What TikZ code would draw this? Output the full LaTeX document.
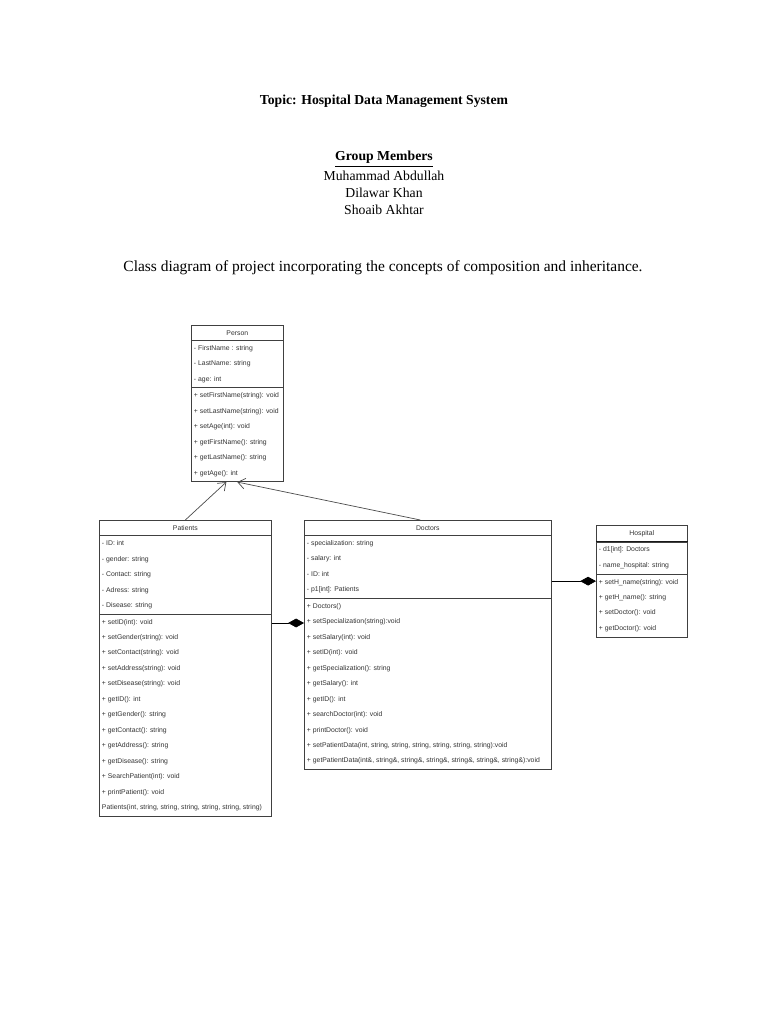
\documentclass[tikz,border=0pt]{standalone}
\usepackage{fontspec}
\setmainfont{Liberation Serif}
\newfontfamily\umlsans{Liberation Sans}
\usepackage{tikz}
\usetikzlibrary{arrows.meta}
\usetikzlibrary{shapes.multipart}

\tikzset{
  heading/.style={font=\fontsize{7.8}{9.5}\selectfont, inner sep=0pt},
  umlclass/.style={rectangle split, rectangle split parts=3, draw=black!75,
    fill=white, anchor=north west, align=left, text=black!80,
    font=\umlsans\fontsize{3.9}{8.8}\selectfont,
    inner xsep=1.5pt, inner ysep=2.7pt,
    rectangle split part align={center,left,left}},
  inherit/.style={-{Straight Barb[length=4pt,width=6pt]}, draw=black!70, thin},
  compos/.style={-{Diamond[length=9pt,width=5pt]}, draw=black, thin},
}

\begin{document}
\begin{tikzpicture}[x=0.02cm,y=-0.02cm]
\useasboundingbox[fill=white] (0,0) rectangle (768,1024);

% title block
\node[heading] (topic) at (384,101) {\textbf{Topic: Hospital Data Management System}};
\node[heading] (members) at (384,159) {\textbf{\underline{Group Members}}};
\node[heading] (m1) at (384,176) {Muhammad Abdullah};
\node[heading] (m2) at (384,193) {Dilawar Khan};
\node[heading] (m3) at (384,210) {Shoaib Akhtar};
\node[heading, font=\fontsize{8.8}{10}\selectfont] (caption) at (383,268) {Class diagram of project incorporating the concepts of composition and inheritance.};

% classes
\node[umlclass, minimum width=1.84cm] (person) at (191,325) {Person
  \nodepart{two}- FirstName : string\\- LastName: string\\- age: int
  \nodepart{three}+ setFirstName(string): void\\+ setLastName(string): void\\+ setAge(int): void\\
  + getFirstName(): string\\+ getLastName(): string\\+ getAge(): int};

\node[umlclass, minimum width=3.44cm] (patients) at (99,520) {Patients
  \nodepart{two}- ID: int\\- gender: string\\- Contact: string\\- Adress: string\\- Disease: string
  \nodepart{three}+ setID(int): void\\+ setGender(string): void\\+ setContact(string): void\\
  + setAddress(string): void\\+ setDisease(string): void\\+ getID(): int\\+ getGender(): string\\
  + getContact(): string\\+ getAddress(): string\\+ getDisease(): string\\+ SearchPatient(int): void\\
  + printPatient(): void\\Patients(int, string, string, string, string, string, string)};

\node[umlclass, minimum width=4.94cm] (doctors) at (304,520) {Doctors
  \nodepart{two}- specialization: string\\- salary: int\\- ID: int\\- p1[int]: Patients
  \nodepart{three}+ Doctors()\\+ setSpecialization(string):void\\+ setSalary(int): void\\
  + setID(int): void\\+ getSpecialization(): string\\+ getSalary(): int\\+ getID(): int\\
  + searchDoctor(int): void\\+ printDoctor(): void\\
  + setPatientData(int, string, string, string, string, string, string):void\\
  + getPatientData(int\&, string\&, string\&, string\&, string\&, string\&, string\&):void};

\node[umlclass, minimum width=1.82cm] (hospital) at (596,525) {Hospital
  \nodepart{two}- d1[int]: Doctors\\- name\_hospital: string
  \nodepart{three}+ setH\_name(string): void\\+ getH\_name(): string\\+ setDoctor(): void\\+ getDoctor(): void};
\draw[black!90, semithick] (hospital.text split west) -- (hospital.text split east);

% inheritance
\draw[inherit] (patients.north) -- ([xshift=-0.22cm]person.south);
\draw[inherit] ([xshift=-0.15cm]doctors.north) -- (person.south);

% composition
\draw[compos] ([yshift=-0.18cm]patients.two split east) -- ([yshift=-0.18cm]patients.two split east -| doctors.west);
\draw[compos] (hospital.west -| doctors.east) -- (hospital.west);
\end{tikzpicture}
\end{document}
